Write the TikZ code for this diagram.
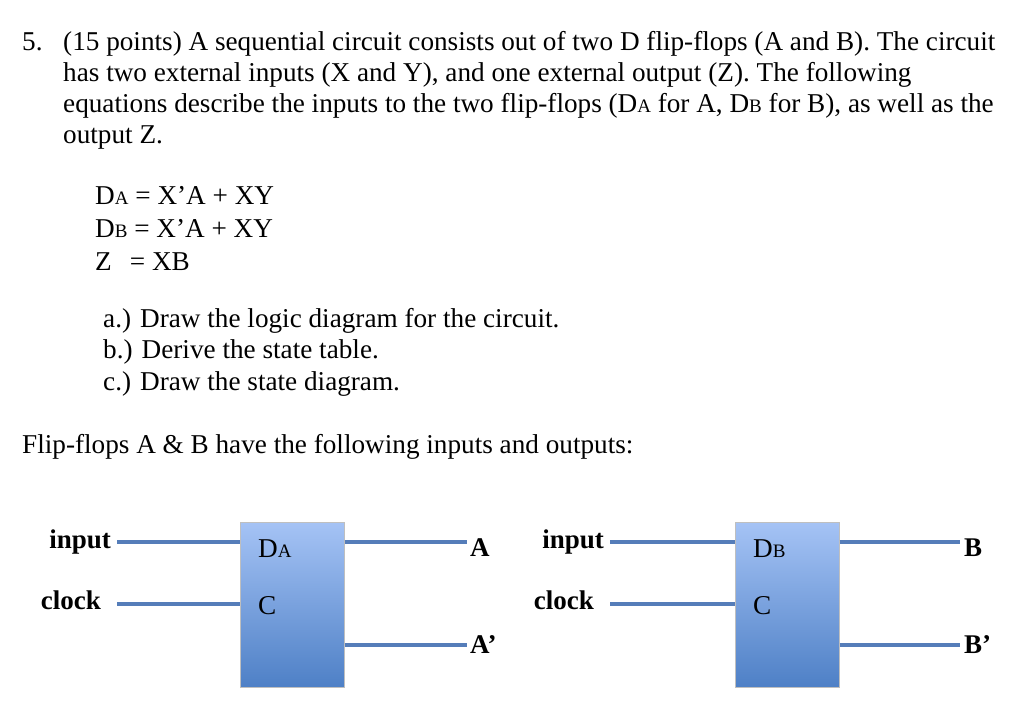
\documentclass[tikz,border=0pt]{standalone}
\usepackage{fontspec}
\setmainfont{Liberation Serif}
\newcommand{\sm}[1]{{\fontsize{19}{21}\selectfont #1}}
\begin{document}
\begin{tikzpicture}[x=1pt,y=-1pt,
  txt/.style={anchor=base west,inner sep=0pt,font=\fontsize{27.2}{31}\selectfont},
  lbl/.style={anchor=base,inner sep=0pt,font=\fontsize{27}{31}\selectfont\bfseries},
  ff/.style={draw=black!25,line width=0.6pt,top color={rgb,255:red,165;green,195;blue,245},bottom color={rgb,255:red,78;green,128;blue,198},minimum width=104pt,minimum height=165pt,inner sep=0pt},
  wire/.style={draw={rgb,255:red,85;green,125;blue,185},line width=3.5pt}]
\useasboundingbox (0,0) rectangle (1024,726);
\node[txt] (n5) at (22,50) {5.};
\node[txt] (l1) at (63,50) {(15 points) A sequential circuit consists out of two D flip-flops (A and B). The circuit};
\node[txt] (l2) at (63,81) {has two external inputs (X and Y), and one external output (Z). The following};
\node[txt] (l3) at (63,112) {equations describe the inputs to the two flip-flops (D\sm{A} for A, D\sm{B} for B), as well as the};
\node[txt] (l4) at (63,143) {output Z.};
\node[txt] (e1) at (95,204) {D\sm{A} = X’A + XY};
\node[txt] (e2) at (95,237) {D\sm{B} = X’A + XY};
\node[txt] (e3) at (95,270) {Z \ \,= XB};
\node[txt] (qa) at (103,327) {a.) Draw the logic diagram for the circuit.};
\node[txt] (qb) at (103,358) {b.) Derive the state table.};
\node[txt] (qc) at (103,390) {c.) Draw the state diagram.};
\node[txt] (ff) at (22,453) {Flip-flops A \& B have the following inputs and outputs:};
% flip-flop A
\node[ff,anchor=north west] (FA) at (240,522) {};
\coordinate (ia) at (117,542); \coordinate (ca) at (117,604);
\coordinate (oa) at (467,542); \coordinate (ob) at (467,645);
\draw[wire] (ia) -- (ia -| FA.west);
\draw[wire] (ca) -- (ca -| FA.west);
\draw[wire] (oa -| FA.east) -- (oa);
\draw[wire] (ob -| FA.east) -- (ob);
\node[txt] (da) at (258,557) {D\sm{A}};
\node[txt] (cA) at (258,614) {C};
\node[lbl,anchor=base east] (inA) at (111,548) {input};
\node[lbl,anchor=base east] (clA) at (101,609) {clock};
\node[lbl,anchor=base west] (oA) at (470,556) {A};
\node[lbl,anchor=base west] (oAp) at (470,653) {A’};
% flip-flop B
\node[ff,anchor=north west] (FB) at (735,522) {};
\coordinate (ib) at (610,542); \coordinate (cb) at (610,604);
\coordinate (obb) at (960,542); \coordinate (obp) at (960,645);
\draw[wire] (ib) -- (ib -| FB.west);
\draw[wire] (cb) -- (cb -| FB.west);
\draw[wire] (obb -| FB.east) -- (obb);
\draw[wire] (obp -| FB.east) -- (obp);
\node[txt] (db) at (753,557) {D\sm{B}};
\node[txt] (cB) at (753,614) {C};
\node[lbl,anchor=base east] (inB) at (604,548) {input};
\node[lbl,anchor=base east] (clB) at (594,609) {clock};
\node[lbl,anchor=base west] (oB) at (964,556) {B};
\node[lbl,anchor=base west] (oBp) at (964,653) {B’};
\end{tikzpicture}
\end{document}
